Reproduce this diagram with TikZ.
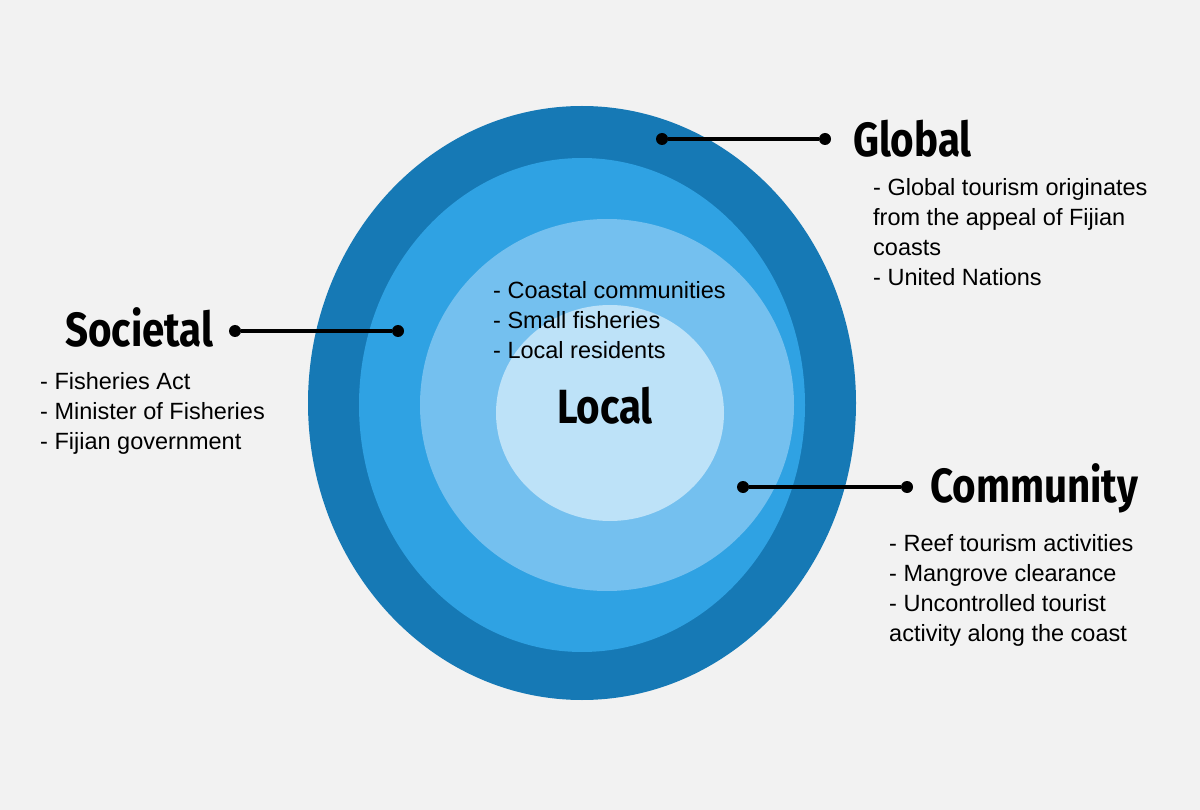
\documentclass[tikz,border=0pt]{standalone}
\usepackage{fontspec}
\setmainfont{Liberation Sans}
\newfontfamily\headfont{Fira Sans}
\begin{document}
\begin{tikzpicture}[x=1pt,y=-1pt,
  body/.style={font=\fontsize{23.5}{30}\selectfont, align=left, anchor=north west, inner sep=0pt},
  head/.style={font=\headfont\bfseries\fontsize{48}{48}\selectfont, xscale=0.84, inner sep=0pt},
  dot/.style={circle, fill=black, minimum size=12pt, inner sep=0pt},
  conn/.style={line width=3.5pt}]
\useasboundingbox (0,0) rectangle (1200,810);
\fill[gray!10] (0,0) rectangle (1200,810);
\fill[fill={rgb,255:red,22;green,121;blue,181}] (582,403) ellipse [x radius=274, y radius=297];
\fill[fill={rgb,255:red,47;green,162;blue,227}] (582,405) ellipse [x radius=223, y radius=247];
\fill[fill={rgb,255:red,116;green,192;blue,239}] (607,405) ellipse [x radius=187, y radius=186];
\fill[fill={rgb,255:red,189;green,226;blue,248}] (610,413) ellipse [x radius=114, y radius=108];

\node[body] (loclist) at (493,281) {- Coastal communities\\- Small fisheries\\- Local residents};
\node[head, anchor=center] (local) at (605,406) {Local};

\node[dot] (g1) at (662,139) {};
\node[dot] (g2) at (825,139) {};
\draw[conn] (g1) -- (g2);
\node[head, anchor=west] (global) at (853,139) {Global};
\node[body] (glist) at (873,178) {- Global tourism originates\\from the appeal of Fijian\\coasts\\- United Nations};

\node[dot] (s1) at (235,331) {};
\node[dot] (s2) at (398,331) {};
\draw[conn] (s1) -- (s2);
\node[head, anchor=west] (societal) at (65,327) {Societal};
\node[body] (slist) at (40,372) {- Fisheries Act\\- Minister of Fisheries\\- Fijian government};

\node[dot] (c1) at (743,487) {};
\node[dot] (c2) at (907,487) {};
\draw[conn] (c1) -- (c2);
\node[head, anchor=west] (community) at (930,488) {Community};
\node[body] (clist) at (889,534) {- Reef tourism activities\\- Mangrove clearance\\- Uncontrolled tourist\\activity along the coast};
\end{tikzpicture}
\end{document}
